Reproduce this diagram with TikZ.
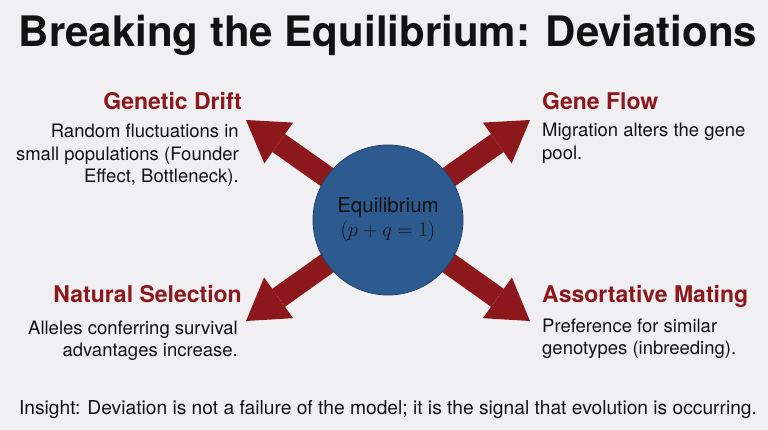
\documentclass[tikz,border=0pt]{standalone}
\usepackage{fontspec}
\setmainfont{TeX Gyre Heros}
\usetikzlibrary{arrows.meta, backgrounds}
\definecolor{mybg}{RGB}{240,240,243}
\definecolor{myred}{RGB}{140,24,28}
\definecolor{myblue}{RGB}{45,91,143}
\definecolor{mynavy}{RGB}{32,64,106}
\definecolor{myink}{RGB}{18,18,18}
\tikzset{
  titletext/.style={font=\fontsize{42}{48}\selectfont\bfseries, color=myink, inner sep=0pt},
  heading/.style={font=\fontsize{23}{27}\selectfont\bfseries, color=myred, inner sep=0pt},
  desc/.style={font=\fontsize{18.5}{22.5}\selectfont, color=myink, inner sep=0pt},
  insight/.style={font=\fontsize{19.2}{23}\selectfont, color=myink, inner sep=0pt},
  eqcircle/.style={circle, draw=mynavy, fill=myblue, line width=0.8pt,
    minimum size=150pt, inner sep=0pt, align=center, text=myink,
    font=\fontsize{20.5}{24}\selectfont},
  deviation/.style={line width=22pt, color=myred,
    -{Triangle[length=40pt, width=50pt, line width=0pt]}}
}

\begin{document}
\begin{tikzpicture}[x=1pt, y=-1pt]
  % Canvas
  \useasboundingbox (0,0) rectangle (768,430);

  % Title
  \node[titletext, anchor=base] (title) at (388,47) {Breaking the Equilibrium: Deviations};

  % Equilibrium circle
  \node[eqcircle] (eq) at (388,220) {Equilibrium\\$(p+q=1)$};

  % Arrow tips
  \coordinate (drifttip) at (246,120);
  \coordinate (flowtip) at (530,120);
  \coordinate (selecttip) at (246,321);
  \coordinate (matetip) at (530,321);

  % Deviations, behind the circle
  \begin{pgfonlayer}{background}
    \fill[mybg] (0,0) rectangle (768,430);
    \draw[deviation] (eq.center) -- (drifttip);
    \draw[deviation] (eq.center) -- (flowtip);
    \draw[deviation] (eq.center) -- (selecttip);
    \draw[deviation] (eq.center) -- (matetip);
  \end{pgfonlayer}

  % Genetic Drift (base = last line)
  \node[heading, anchor=base east] (drift) at (242,110) {Genetic Drift};
  \node[desc, anchor=base east, align=right] (driftdesc) at (239,183) {Random fluctuations in\\small populations (Founder\\Effect, Bottleneck).};

  % Gene Flow
  \node[heading, anchor=base west] (flow) at (542,110) {Gene Flow};
  \node[desc, anchor=base west, align=left] (flowdesc) at (542,159.5) {Migration alters the gene\\pool.};

  % Natural Selection
  \node[heading, anchor=base east] (select) at (242,302) {Natural Selection};
  \node[desc, anchor=base east, align=right] (selectdesc) at (238,356.5) {Alleles conferring survival\\advantages increase.};

  % Assortative Mating
  \node[heading, anchor=base west] (mate) at (542,302) {Assortative Mating};
  \node[desc, anchor=base west, align=left] (matedesc) at (542,354.5) {Preference for similar\\genotypes (inbreeding).};

  % Insight
  \node[insight, anchor=base] (note) at (388,414) {Insight: Deviation is not a failure of the model; it is the signal that evolution is occurring.};
\end{tikzpicture}
\end{document}
